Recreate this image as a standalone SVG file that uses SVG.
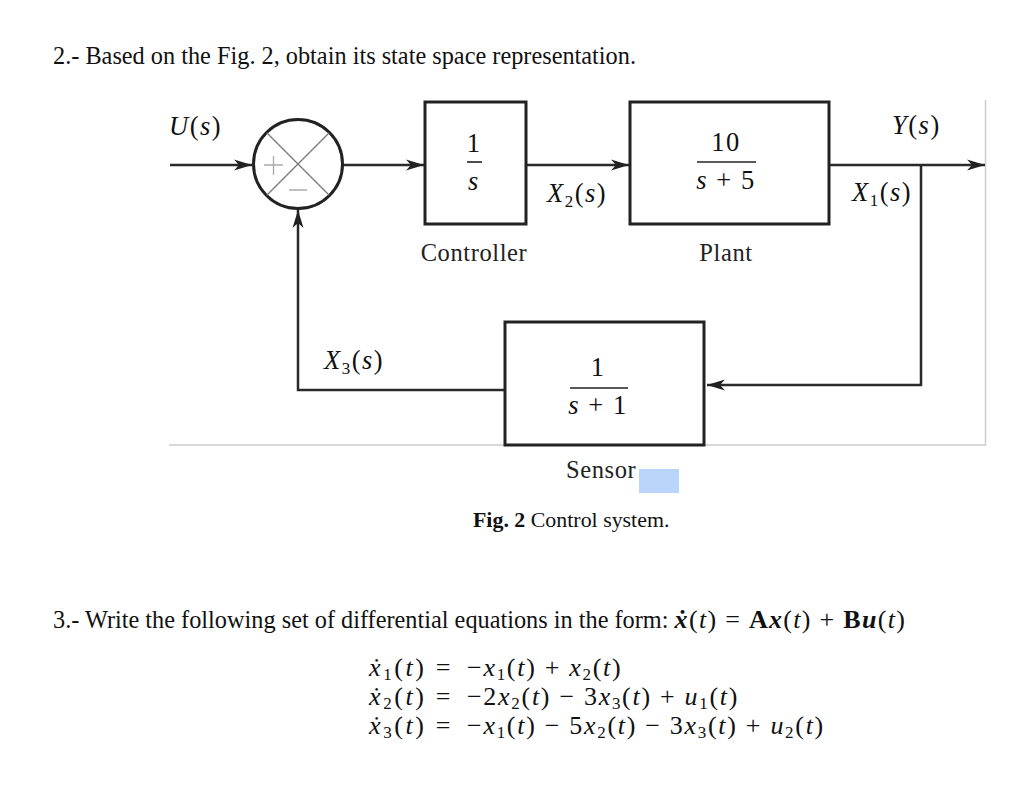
<svg xmlns="http://www.w3.org/2000/svg" width="1024" height="795" viewBox="0 0 1024 795">
<style>
text{font-family:"Liberation Serif",serif;fill:#111}
.b{font-size:24.300px}
.m{font-size:26.500px;font-style:italic;letter-spacing:1.500px}
.n{font-style:normal}
.s{font-size:17px;font-style:normal}
.l{font-size:24.500px;letter-spacing:.6px;fill:#222}
.e{font-size:26px;font-style:italic;letter-spacing:1.700px}
.h{letter-spacing:2.600px}
.q{letter-spacing:1.300px;font-size:26px}
.box{fill:#fff;stroke:#222;stroke-width:3}
.c{fill:none;stroke:#2a2a2a;stroke-width:2.500}
.f{stroke:#222;stroke-width:1.600}
.g{fill:none;stroke:#ccc;stroke-width:1.500}
.t{fill:none;stroke:#777;stroke-width:1.300}
.p{fill:none;stroke:#aaa;stroke-width:1.300}
</style>
<defs><marker id="a" markerUnits="userSpaceOnUse" markerWidth="20" markerHeight="14" refX="18" refY="7" orient="auto"><path d="M0 1.500L18 7L0 12.500L5 7Z" fill="#222"/></marker></defs>
<rect width="1024" height="795" fill="#fff"/>
<text class="b" x="53" y="64">2.- Based on the Fig. 2, obtain its state space representation.</text>
<path class="g" d="M169 445H985.500V100"/>
<g id="connectors">
<path class="c" marker-end="url(#a)" d="M170 165H252"/>
<path class="c" marker-end="url(#a)" d="M343 165H424"/>
<path class="c" marker-end="url(#a)" d="M526 165H629"/>
<path class="c" marker-end="url(#a)" d="M829 165H985"/>
<path class="c" marker-end="url(#a)" d="M921 165V385H707"/>
<path class="c" marker-end="url(#a)" d="M505 390H298V210"/>
</g>
<g id="sum"><circle class="box" cx="298" cy="164" r="44.500"/>
<path class="t" d="M267 133L329 195M329 133L267 195"/><path class="p" d="M264 165H283M273.500 156V175M289 190H307"/></g>
<g id="controller"><rect class="box" x="425" y="102" width="101" height="122"/>
<text class="m n" x="474" y="152" text-anchor="middle">1</text><path class="f" d="M467 162H482"/><text class="m" x="474" y="190" text-anchor="middle">s</text>
<text class="l" x="474" y="261" text-anchor="middle">Controller</text></g>
<g id="plant"><rect class="box" x="630" y="102" width="199" height="122"/>
<text class="m n" x="726" y="151" text-anchor="middle">10</text><path class="f" d="M697 162H756"/><text class="m" x="726" y="189" text-anchor="middle">s<tspan class="n"> + 5</tspan></text>
<text class="l" x="726" y="261" text-anchor="middle">Plant</text></g>
<g id="sensor"><rect class="box" x="505" y="322" width="199" height="123"/>
<text class="m n" x="598" y="376" text-anchor="middle">1</text><path class="f" d="M570 388H628"/><text class="m" x="598" y="414" text-anchor="middle">s<tspan class="n"> + 1</tspan></text>
<text class="l" x="566" y="478">Sensor</text></g>
<g id="labels">
<text class="m" x="169" y="135">U<tspan class="n">(</tspan>s<tspan class="n">)</tspan></text>
<text class="m" x="892" y="134">Y<tspan class="n">(</tspan>s<tspan class="n">)</tspan></text>
<text class="m" x="547" y="202">X<tspan class="s" dy="5">2</tspan><tspan class="n" dy="-5">(</tspan>s<tspan class="n">)</tspan></text>
<text class="m" x="852" y="201">X<tspan class="s" dy="5">1</tspan><tspan class="n" dy="-5">(</tspan>s<tspan class="n">)</tspan></text>
<text class="m" x="324" y="369">X<tspan class="s" dy="5">3</tspan><tspan class="n" dy="-5">(</tspan>s<tspan class="n">)</tspan></text>
</g>
<rect x="639" y="469" width="40" height="24" fill="#b9d5fb"/>
<text x="473" y="527" font-size="21.900" font-weight="bold">Fig. 2 <tspan font-weight="normal">Control system.</tspan></text>
<text class="b" x="53" y="628">3.- Write the following set of differential equations in the form: <tspan class="q"><tspan font-weight="bold" font-style="italic">ẋ</tspan>(<tspan font-style="italic">t</tspan>) = <tspan font-weight="bold">A</tspan><tspan font-weight="bold" font-style="italic">x</tspan>(<tspan font-style="italic">t</tspan>) + <tspan font-weight="bold">B</tspan><tspan font-weight="bold" font-style="italic">u</tspan>(<tspan font-style="italic">t</tspan>)</tspan></text>
<g id="equations">
<text class="e h" x="369" y="676">ẋ<tspan class="s" dy="4">1</tspan><tspan class="n" dy="-4">(</tspan>t<tspan class="n">) =</tspan></text>
<text class="e h" x="369" y="705">ẋ<tspan class="s" dy="4">2</tspan><tspan class="n" dy="-4">(</tspan>t<tspan class="n">) =</tspan></text>
<text class="e h" x="369" y="734">ẋ<tspan class="s" dy="4">3</tspan><tspan class="n" dy="-4">(</tspan>t<tspan class="n">) =</tspan></text>
<text class="e" x="467" y="676"><tspan class="n">−</tspan>x<tspan class="s" dy="4">1</tspan><tspan class="n" dy="-4">(</tspan>t<tspan class="n">) + </tspan>x<tspan class="s" dy="4">2</tspan><tspan class="n" dy="-4">(</tspan>t<tspan class="n">)</tspan></text>
<text class="e" x="467" y="705"><tspan class="n">−2</tspan>x<tspan class="s" dy="4">2</tspan><tspan class="n" dy="-4">(</tspan>t<tspan class="n">) − 3</tspan>x<tspan class="s" dy="4">3</tspan><tspan class="n" dy="-4">(</tspan>t<tspan class="n">) + </tspan>u<tspan class="s" dy="4">1</tspan><tspan class="n" dy="-4">(</tspan>t<tspan class="n">)</tspan></text>
<text class="e" x="467" y="734"><tspan class="n">−</tspan>x<tspan class="s" dy="4">1</tspan><tspan class="n" dy="-4">(</tspan>t<tspan class="n">) − 5</tspan>x<tspan class="s" dy="4">2</tspan><tspan class="n" dy="-4">(</tspan>t<tspan class="n">) − 3</tspan>x<tspan class="s" dy="4">3</tspan><tspan class="n" dy="-4">(</tspan>t<tspan class="n">) + </tspan>u<tspan class="s" dy="4">2</tspan><tspan class="n" dy="-4">(</tspan>t<tspan class="n">)</tspan></text>
</g>
</svg>
